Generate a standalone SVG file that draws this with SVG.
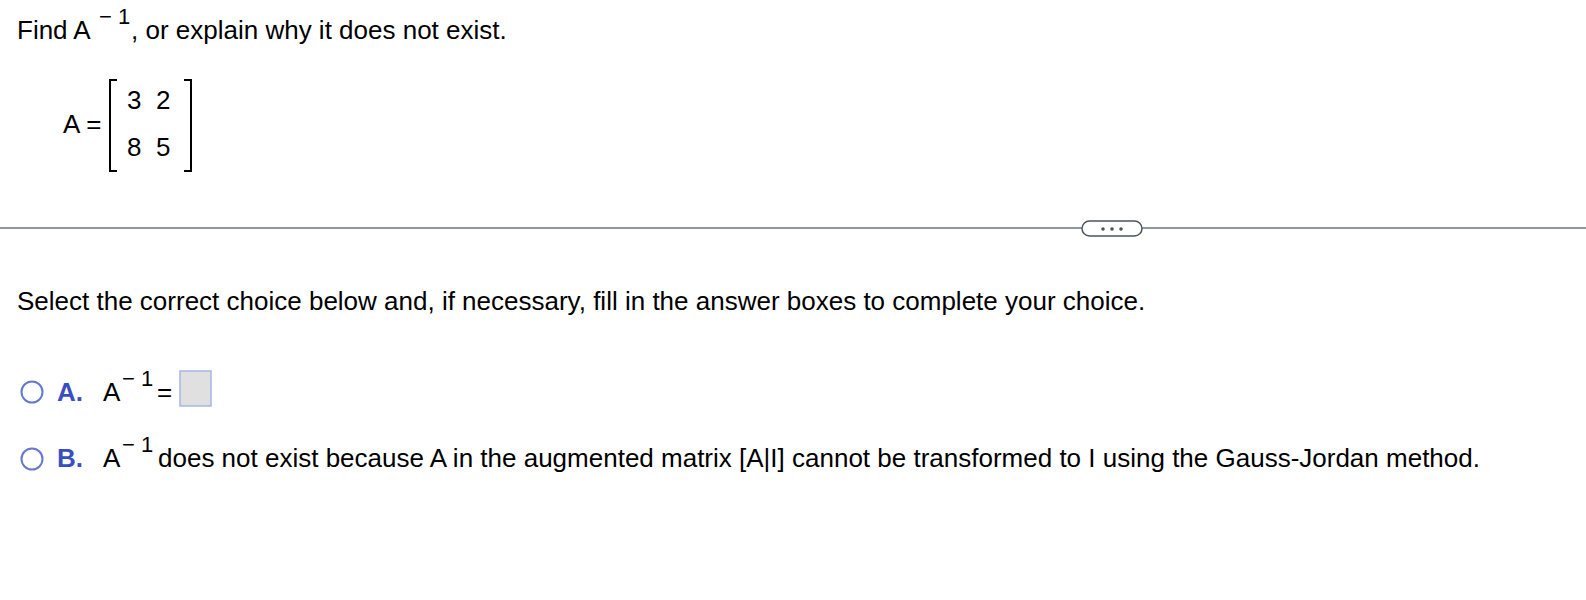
<svg xmlns="http://www.w3.org/2000/svg" width="1586" height="600" viewBox="0 0 1586 600">
<style>
text{font-family:"Liberation Sans",Arial,sans-serif;font-size:26px;fill:#000}
.s{font-size:22px}
.lbl{fill:#3a4fbf;font-weight:bold}
.br{fill:none;stroke:#000;stroke-width:2}
</style>
<rect width="1586" height="600" fill="#fff"/>
<text x="17" y="39">Find A</text>
<text x="99" y="24" class="s">− 1</text>
<text x="131" y="39">, or explain why it does not exist.</text>
<text x="63" y="133">A =</text>
<path class="br" d="M117,80 H110 V171 H117"/>
<path class="br" d="M184,80 H191 V171 H184"/>
<text x="127" y="109">3</text>
<text x="156" y="109">2</text>
<text x="127" y="156">8</text>
<text x="156" y="156">5</text>
<line x1="0" y1="228" x2="1082" y2="228" stroke="#6b7683" stroke-width="1.5"/>
<line x1="1142" y1="228" x2="1586" y2="228" stroke="#6b7683" stroke-width="1.5"/>
<rect x="1082" y="221" width="60" height="15" rx="7.5" fill="#fff" stroke="#4a5563" stroke-width="1.5"/>
<g fill="#4a5563"><circle cx="1103" cy="229" r="1.8"/><circle cx="1112" cy="229" r="1.8"/><circle cx="1121" cy="229" r="1.8"/></g>
<text x="17" y="310">Select the correct choice below and, if necessary, fill in the answer boxes to complete your choice.</text>
<circle cx="32" cy="392" r="10.5" fill="#fff" stroke="#6577cf" stroke-width="2"/>
<text x="57" y="401" class="lbl">A.</text>
<text x="103" y="401">A</text>
<text x="122" y="386" class="s">− 1</text>
<text x="157" y="401">=</text>
<rect x="180" y="371" width="31" height="35" fill="#e0e0e0" stroke="#a4b6e6" stroke-width="1.5"/>
<circle cx="32" cy="459" r="10.5" fill="#fff" stroke="#6577cf" stroke-width="2"/>
<text x="57" y="467" class="lbl">B.</text>
<text x="103" y="467">A</text>
<text x="122" y="452" class="s">− 1</text>
<text x="158" y="467">does not exist because A in the augmented matrix [A|I] cannot be transformed to I using the Gauss-Jordan method.</text>
</svg>
